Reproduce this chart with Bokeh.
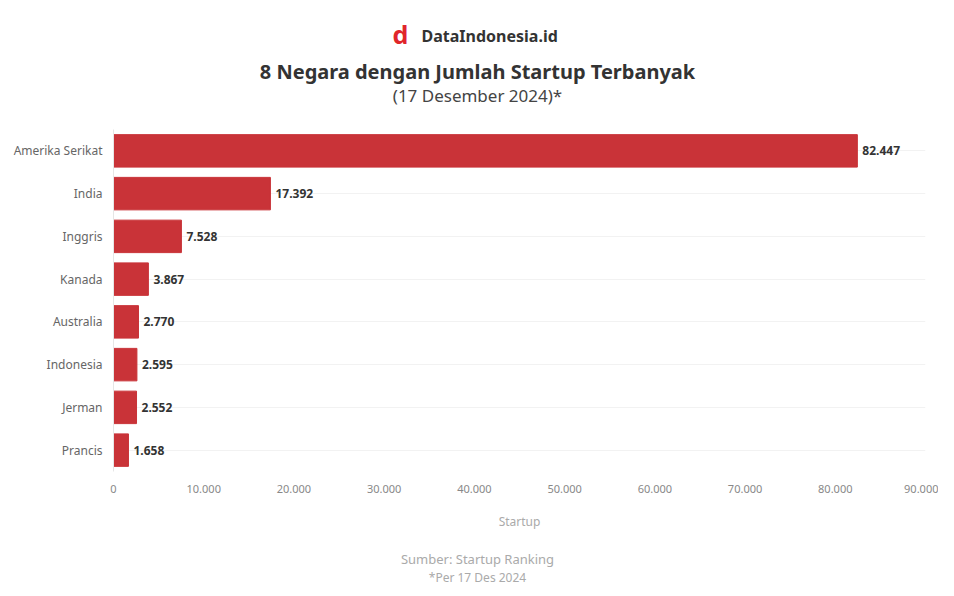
from bokeh.plotting import figure
from bokeh.layouts import column
from bokeh.models import FactorRange, Range1d, Label, ColumnDataSource, CustomJSTickFormatter
from bokeh.core.properties import value
from bokeh.embed import file_html
from bokeh.resources import INLINE

countries = ["Amerika Serikat", "India", "Inggris", "Kanada", "Australia", "Indonesia", "Jerman", "Prancis"]
startups = [82447, 17392, 7528, 3867, 2770, 2595, 2552, 1658]
x_ticks = [0, 10000, 20000, 30000, 40000, 50000, 60000, 70000, 80000, 90000]

def fmt(v):
    return f"{v:,}".replace(",", ".")

labels = [fmt(v) for v in startups]
src = ColumnDataSource(dict(country=countries, n=startups, lab=labels))

FONT = "Noto Sans"
W = 938
LEFT = 113   # frames in the column are aligned, so text panels start here too

def text_panel(height):
    f = figure(width=W, height=height, title=None, x_axis_type=None, y_axis_type=None,
               output_backend="svg", toolbar_location=None,
               min_border_left=0, min_border_right=0, min_border_top=0, min_border_bottom=0,
               x_range=Range1d(0, W), y_range=Range1d(0, height))
    f.outline_line_color = None
    f.xgrid.visible = False
    f.ygrid.visible = False
    return f

def add_text(f, text, x, y, size, color, style="normal", align="center"):
    f.add_layout(Label(x=x - LEFT, y=y, x_units="screen", y_units="screen", text=text,
                       text_font=FONT, text_font_size=size, text_color=color,
                       text_font_style=style, text_align=align, text_baseline="middle"))

# header
head = text_panel(129)
add_text(head, "d", 392, 96, "25px", "#e0262b", style="bold", align="left")
add_text(head, "DataIndonesia.id", 421, 94, "16px", "#333333", style="bold", align="left")
add_text(head, "8 Negara dengan Jumlah Startup Terbanyak", 477, 58, "20px", "#333333", style="bold")
add_text(head, "(17 Desember 2024)*", 477, 34, "17px", "#444444")

# main chart
p = figure(width=W, height=406, title=None,
           y_range=FactorRange(*reversed(countries)), x_range=Range1d(0, 90000),
           output_backend="svg", toolbar_location=None,
           min_border_left=LEFT, min_border_right=13, min_border_top=0, min_border_bottom=64)
p.outline_line_color = None

p.hbar(y="country", right="n", left=0, height=0.76, source=src, color="#c93338")
p.text(x="n", y="country", text="lab", source=src, x_offset=5,
       text_baseline="middle", text_align="left", text_font=value(FONT),
       text_font_size="12px", text_font_style="bold", text_color="#333333")

p.xgrid.grid_line_color = None
p.ygrid.grid_line_color = "#f2f2f2"

p.xaxis.ticker = x_ticks
p.xaxis.formatter = CustomJSTickFormatter(code="return tick.toLocaleString('de-DE');")
p.xaxis.axis_line_color = None
p.xaxis.major_tick_line_color = None
p.xaxis.minor_tick_line_color = None
p.xaxis.major_label_text_font = FONT
p.xaxis.major_label_text_font_size = "11px"
p.xaxis.major_label_text_color = "#888888"
p.xaxis.major_label_standoff = 7
p.xaxis.axis_label = "Startup"
p.xaxis.axis_label_text_font = FONT
p.xaxis.axis_label_text_font_size = "12px"
p.xaxis.axis_label_text_font_style = "normal"
p.xaxis.axis_label_text_color = "#aaaaaa"
p.xaxis.axis_label_standoff = 17

p.yaxis.axis_line_color = "#e6e6e6"
p.yaxis.major_tick_line_color = None
p.yaxis.minor_tick_line_color = None
p.yaxis.major_label_text_font = FONT
p.yaxis.major_label_text_font_size = "12px"
p.yaxis.major_label_text_color = "#666666"
p.yaxis.major_label_standoff = 5

# footer
foot = text_panel(55)
add_text(foot, "Sumber: Startup Ranking", 477, 32, "13px", "#aaaaaa")
add_text(foot, "*Per 17 Des 2024", 477, 13, "12px", "#aaaaaa")

layout = column(head, p, foot, spacing=0)
open("out.html", "w").write(file_html(layout, INLINE))
